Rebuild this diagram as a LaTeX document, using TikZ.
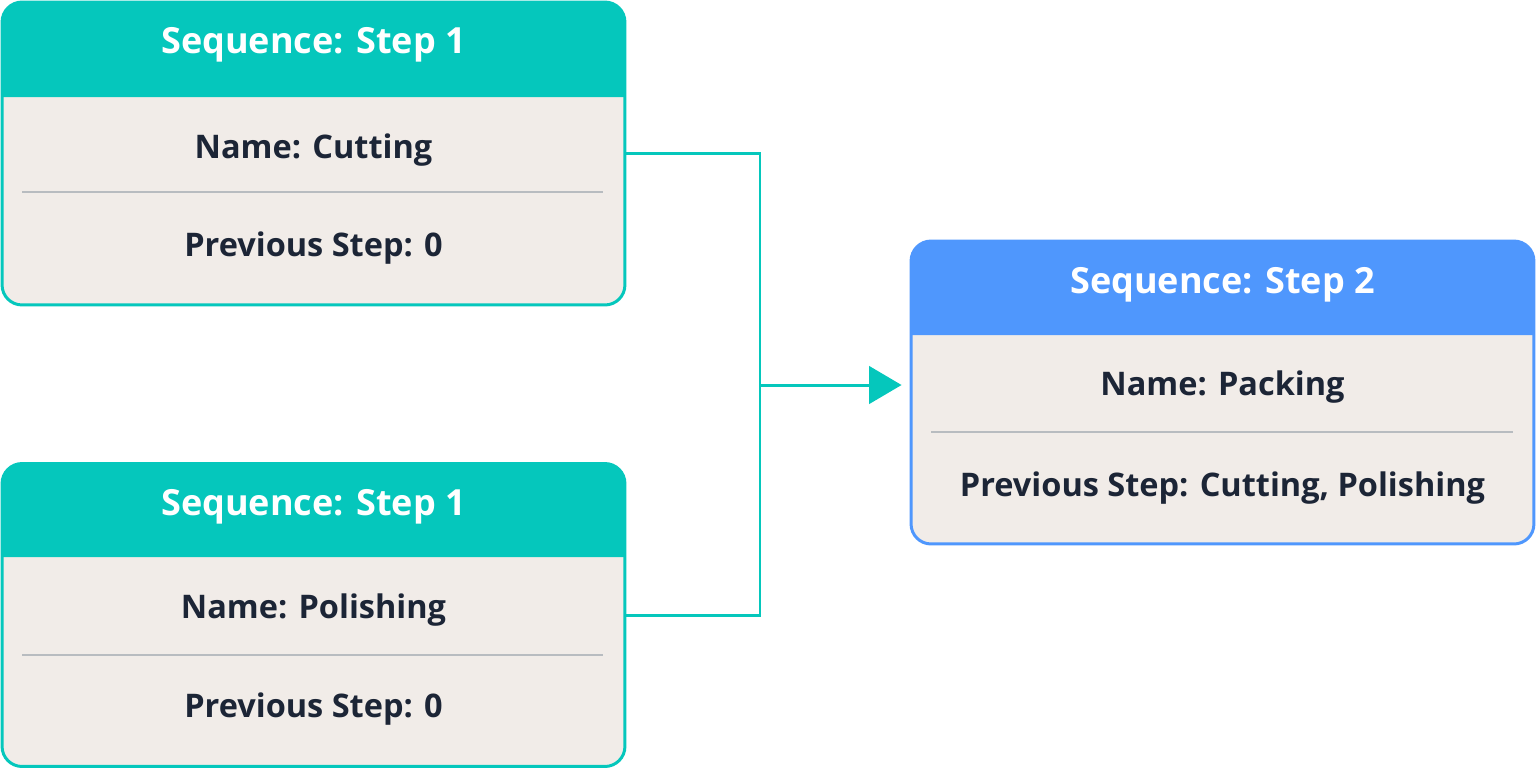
\documentclass[tikz,border=0pt]{standalone}
\usepackage{fontspec}
\setmainfont{Open Sans}
\usetikzlibrary{arrows.meta}
\definecolor{tealc}{HTML}{05C7BC}
\definecolor{bluec}{HTML}{4F97FD}
\definecolor{bodyc}{HTML}{F1ECE8}
\definecolor{textc}{HTML}{1C2536}
\definecolor{sepc}{HTML}{B8BCC0}
\tikzset{
  box/.style={draw=#1, fill=bodyc, line width=1.7pt, rounded corners=0.4cm,
    minimum width=12.46cm, minimum height=6.06cm, inner sep=0pt},
  head/.style={font=\bfseries\fontsize{20.5}{24}\selectfont, text=white},
  field/.style={font=\bfseries\fontsize{18.5}{22}\selectfont, text=textc},
  sep/.style={draw=sepc, line width=1.3pt},
  link/.style={draw=tealc, line width=1.7pt}
}
\begin{document}
\begin{tikzpicture}[x=0.02cm,y=-0.02cm]
  \useasboundingbox (0,0) rectangle (1536,769);
  % step 1 boxes
  \node[box=tealc] (cut) at (313.5,153.5) {};
  \fill[tealc, rounded corners=0.4cm] (2,97) -- (2,2) -- (625,2) [sharp corners] -- (625,97) -- cycle;
  \node[head] (cuthead) at (313.5,45) {Sequence: Step 1};
  \node[field] (cutname) at (313.5,150) {Name: Cutting};
  \draw[sep] (22,192) -- (603,192);
  \node[field] (cutprev) at (313.5,248) {Previous Step: 0};
  \node[box=tealc] (pol) at (313.5,615) {};
  \fill[tealc, rounded corners=0.4cm] (2,557) -- (2,463) -- (625,463) [sharp corners] -- (625,557) -- cycle;
  \node[head] (polhead) at (313.5,507) {Sequence: Step 1};
  \node[field] (polname) at (313.5,610) {Name: Polishing};
  \draw[sep] (22,655) -- (603,655);
  \node[field] (polprev) at (313.5,709) {Previous Step: 0};
  % step 2 box
  \node[box=bluec] (pack) at (1222.5,392.5) {};
  \fill[bluec, rounded corners=0.4cm] (911,335) -- (911,240) -- (1534,240) [sharp corners] -- (1534,335) -- cycle;
  \node[head] (packhead) at (1222.5,285) {Sequence: Step 2};
  \node[field] (packname) at (1222.5,387) {Name: Packing};
  \draw[sep] (931,432) -- (1513,432);
  \node[field] (packprev) at (1222.5,488) {Previous Step: Cutting, Polishing};
  % connectors
  \coordinate (join) at (760,385);
  \draw[link] (cut.east |- 0,153) -| (join) |- (pol.east |- 0,615);
  \draw[link, shorten >=0.16cm, -{Triangle[length=0.65cm,width=0.75cm]}] (join) -- (pack.west |- join);
\end{tikzpicture}
\end{document}
